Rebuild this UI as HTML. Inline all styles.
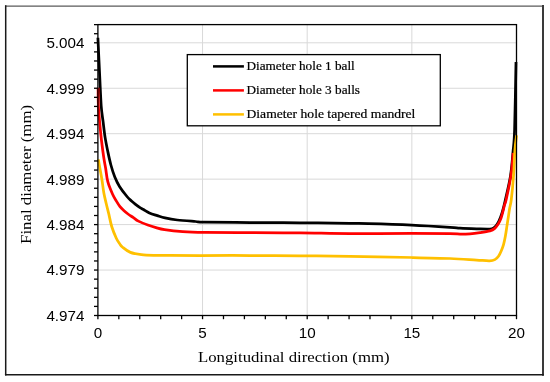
<!DOCTYPE html>
<html><head><meta charset="utf-8"><title>Final diameter chart</title>
<style>html,body{margin:0;padding:0;background:#fff;width:550px;height:382px;overflow:hidden}svg{display:block}</style>
</head><body>
<svg width="550" height="382" viewBox="0 0 550 382"><g stroke="#d9d9d9" stroke-width="1"><line x1="98" y1="270.05" x2="516.5" y2="270.05"/><line x1="98" y1="224.60" x2="516.5" y2="224.60"/><line x1="98" y1="179.15" x2="516.5" y2="179.15"/><line x1="98" y1="133.70" x2="516.5" y2="133.70"/><line x1="98" y1="88.25" x2="516.5" y2="88.25"/><line x1="98" y1="42.80" x2="516.5" y2="42.80"/><line x1="202.55" y1="24.6" x2="202.55" y2="315.5"/><line x1="307.20" y1="24.6" x2="307.20" y2="315.5"/><line x1="411.85" y1="24.6" x2="411.85" y2="315.5"/></g>
<path d="M97.90,37.70 C98.20,44.08 99.15,64.62 99.70,76.00 C100.25,87.38 100.63,98.38 101.20,106.00 C101.77,113.62 102.45,116.47 103.10,121.70 C103.75,126.93 104.32,132.43 105.10,137.40 C105.88,142.37 106.83,146.90 107.80,151.50 C108.77,156.10 109.73,160.75 110.90,165.00 C112.07,169.25 113.37,173.43 114.80,177.00 C116.23,180.57 117.40,183.07 119.50,186.40 C121.60,189.73 125.40,194.57 127.40,197.00 C129.40,199.43 130.20,199.82 131.50,201.00 C132.80,202.18 133.78,203.00 135.20,204.10 C136.62,205.20 138.62,206.70 140.00,207.60 C141.38,208.50 141.93,208.62 143.50,209.50 C145.07,210.38 147.10,211.88 149.40,212.90 C151.70,213.92 154.70,214.77 157.30,215.60 C159.90,216.43 161.67,217.17 165.00,217.90 C168.33,218.63 172.22,219.40 177.30,220.00 C182.38,220.60 190.97,221.15 195.50,221.50 C200.03,221.85 195.42,221.92 204.50,222.10 C213.58,222.28 234.08,222.48 250.00,222.60 C265.92,222.72 283.33,222.67 300.00,222.80 C316.67,222.93 338.63,223.27 350.00,223.40 C361.37,223.53 357.90,223.32 368.20,223.60 C378.50,223.88 398.17,224.48 411.80,225.10 C425.43,225.72 441.97,226.78 450.00,227.30 C458.03,227.82 455.57,227.95 460.00,228.20 C464.43,228.45 471.60,228.67 476.60,228.80 C481.60,228.93 487.10,229.20 490.00,229.00 C492.90,228.80 492.93,228.22 494.00,227.60 C495.07,226.98 495.65,226.23 496.40,225.30 C497.15,224.37 497.90,223.12 498.50,222.00 C499.10,220.88 499.38,220.18 500.00,218.60 C500.62,217.02 501.37,215.35 502.20,212.50 C503.03,209.65 503.62,207.58 505.00,201.50 C506.38,195.42 509.17,184.25 510.50,176.00 C511.83,167.75 512.32,159.67 513.00,152.00 C513.68,144.33 514.10,145.00 514.60,130.00 C515.10,115.00 515.77,73.33 516.00,62.00" fill="none" stroke="#000" stroke-width="2.75" stroke-linejoin="round" stroke-linecap="butt"/>
<path d="M98.10,87.70 C98.15,90.75 98.10,99.82 98.40,106.00 C98.70,112.18 99.38,119.05 99.90,124.80 C100.42,130.55 100.85,135.00 101.50,140.50 C102.15,146.00 103.12,153.22 103.80,157.80 C104.48,162.38 104.93,164.02 105.60,168.00 C106.27,171.98 106.63,177.32 107.80,181.70 C108.97,186.08 111.17,191.07 112.60,194.30 C114.03,197.53 115.17,199.05 116.40,201.10 C117.63,203.15 118.82,205.08 120.00,206.60 C121.18,208.12 122.17,208.97 123.50,210.20 C124.83,211.43 126.35,212.77 128.00,214.00 C129.65,215.23 131.67,216.42 133.40,217.60 C135.13,218.78 136.00,219.87 138.40,221.10 C140.80,222.33 144.87,223.92 147.80,225.00 C150.73,226.08 153.22,226.83 156.00,227.60 C158.78,228.37 160.05,228.93 164.50,229.60 C168.95,230.27 176.03,231.13 182.70,231.60 C189.37,232.07 193.28,232.22 204.50,232.40 C215.72,232.58 234.08,232.62 250.00,232.70 C265.92,232.78 283.33,232.75 300.00,232.90 C316.67,233.05 331.37,233.52 350.00,233.60 C368.63,233.68 395.13,233.38 411.80,233.40 C428.47,233.42 441.97,233.58 450.00,233.70 C458.03,233.82 456.67,234.08 460.00,234.10 C463.33,234.12 466.67,234.05 470.00,233.80 C473.33,233.55 476.67,233.10 480.00,232.60 C483.33,232.10 487.58,231.47 490.00,230.80 C492.42,230.13 493.13,229.72 494.50,228.60 C495.87,227.48 497.13,225.77 498.20,224.10 C499.27,222.43 500.13,220.63 500.90,218.60 C501.67,216.57 502.20,214.17 502.80,211.90 C503.40,209.63 503.93,207.07 504.50,205.00 C505.07,202.93 505.12,204.50 506.20,199.50 C507.28,194.50 509.83,182.75 511.00,175.00 C512.17,167.25 512.83,156.67 513.20,153.00" fill="none" stroke="#ff0000" stroke-width="2.75" stroke-linejoin="round" stroke-linecap="butt"/>
<path d="M98.40,159.40 C98.58,160.50 98.92,162.65 99.50,166.00 C100.08,169.35 101.18,175.05 101.90,179.50 C102.62,183.95 103.08,188.70 103.80,192.70 C104.52,196.70 105.40,200.10 106.20,203.50 C107.00,206.90 107.68,209.27 108.60,213.10 C109.52,216.93 110.42,222.32 111.70,226.50 C112.98,230.68 115.00,235.37 116.30,238.20 C117.60,241.03 118.45,242.00 119.50,243.50 C120.55,245.00 120.78,245.72 122.60,247.20 C124.42,248.68 127.27,251.15 130.40,252.40 C133.53,253.65 137.47,254.20 141.40,254.70 C145.33,255.20 149.23,255.28 154.00,255.40 C158.77,255.52 162.33,255.38 170.00,255.40 C177.67,255.42 186.67,255.48 200.00,255.50 C213.33,255.52 233.33,255.45 250.00,255.50 C266.67,255.55 283.33,255.65 300.00,255.80 C316.67,255.95 331.37,256.12 350.00,256.40 C368.63,256.68 395.13,257.15 411.80,257.50 C428.47,257.85 439.20,258.07 450.00,258.50 C460.80,258.93 470.02,259.72 476.60,260.10 C483.18,260.48 486.45,260.88 489.50,260.80 C492.55,260.72 493.40,260.37 494.90,259.60 C496.40,258.83 497.45,257.63 498.50,256.20 C499.55,254.77 500.35,252.98 501.20,251.00 C502.05,249.02 502.90,246.80 503.60,244.30 C504.30,241.80 504.83,239.12 505.40,236.00 C505.97,232.88 506.50,228.85 507.00,225.60 C507.50,222.35 507.97,219.35 508.40,216.50 C508.83,213.65 509.12,211.33 509.60,208.50 C510.08,205.67 510.63,205.08 511.30,199.50 C511.97,193.92 513.00,183.25 513.60,175.00 C514.20,166.75 514.40,156.60 514.90,150.00 C515.40,143.40 516.32,137.83 516.60,135.40" fill="none" stroke="#ffc000" stroke-width="2.75" stroke-linejoin="round" stroke-linecap="butt"/>
<rect x="97.9" y="24.6" width="418.6" height="290.9" fill="none" stroke="#000" stroke-width="1.3"/>
<g stroke="#000" stroke-width="1.3"><line x1="94.0" y1="315.50" x2="97.9" y2="315.50"/><line x1="94.0" y1="306.41" x2="97.9" y2="306.41"/><line x1="94.0" y1="297.32" x2="97.9" y2="297.32"/><line x1="94.0" y1="288.23" x2="97.9" y2="288.23"/><line x1="94.0" y1="279.14" x2="97.9" y2="279.14"/><line x1="94.0" y1="270.05" x2="97.9" y2="270.05"/><line x1="94.0" y1="260.96" x2="97.9" y2="260.96"/><line x1="94.0" y1="251.87" x2="97.9" y2="251.87"/><line x1="94.0" y1="242.78" x2="97.9" y2="242.78"/><line x1="94.0" y1="233.69" x2="97.9" y2="233.69"/><line x1="94.0" y1="224.60" x2="97.9" y2="224.60"/><line x1="94.0" y1="215.51" x2="97.9" y2="215.51"/><line x1="94.0" y1="206.42" x2="97.9" y2="206.42"/><line x1="94.0" y1="197.33" x2="97.9" y2="197.33"/><line x1="94.0" y1="188.24" x2="97.9" y2="188.24"/><line x1="94.0" y1="179.15" x2="97.9" y2="179.15"/><line x1="94.0" y1="170.06" x2="97.9" y2="170.06"/><line x1="94.0" y1="160.97" x2="97.9" y2="160.97"/><line x1="94.0" y1="151.88" x2="97.9" y2="151.88"/><line x1="94.0" y1="142.79" x2="97.9" y2="142.79"/><line x1="94.0" y1="133.70" x2="97.9" y2="133.70"/><line x1="94.0" y1="124.61" x2="97.9" y2="124.61"/><line x1="94.0" y1="115.52" x2="97.9" y2="115.52"/><line x1="94.0" y1="106.43" x2="97.9" y2="106.43"/><line x1="94.0" y1="97.34" x2="97.9" y2="97.34"/><line x1="94.0" y1="88.25" x2="97.9" y2="88.25"/><line x1="94.0" y1="79.16" x2="97.9" y2="79.16"/><line x1="94.0" y1="70.07" x2="97.9" y2="70.07"/><line x1="94.0" y1="60.98" x2="97.9" y2="60.98"/><line x1="94.0" y1="51.89" x2="97.9" y2="51.89"/><line x1="94.0" y1="42.80" x2="97.9" y2="42.80"/><line x1="94.0" y1="33.71" x2="97.9" y2="33.71"/><line x1="94.0" y1="24.62" x2="97.9" y2="24.62"/><line x1="97.90" y1="315.5" x2="97.90" y2="319.2"/><line x1="118.83" y1="315.5" x2="118.83" y2="319.2"/><line x1="139.76" y1="315.5" x2="139.76" y2="319.2"/><line x1="160.69" y1="315.5" x2="160.69" y2="319.2"/><line x1="181.62" y1="315.5" x2="181.62" y2="319.2"/><line x1="202.55" y1="315.5" x2="202.55" y2="319.2"/><line x1="223.48" y1="315.5" x2="223.48" y2="319.2"/><line x1="244.41" y1="315.5" x2="244.41" y2="319.2"/><line x1="265.34" y1="315.5" x2="265.34" y2="319.2"/><line x1="286.27" y1="315.5" x2="286.27" y2="319.2"/><line x1="307.20" y1="315.5" x2="307.20" y2="319.2"/><line x1="328.13" y1="315.5" x2="328.13" y2="319.2"/><line x1="349.06" y1="315.5" x2="349.06" y2="319.2"/><line x1="369.99" y1="315.5" x2="369.99" y2="319.2"/><line x1="390.92" y1="315.5" x2="390.92" y2="319.2"/><line x1="411.85" y1="315.5" x2="411.85" y2="319.2"/><line x1="432.78" y1="315.5" x2="432.78" y2="319.2"/><line x1="453.71" y1="315.5" x2="453.71" y2="319.2"/><line x1="474.64" y1="315.5" x2="474.64" y2="319.2"/><line x1="495.57" y1="315.5" x2="495.57" y2="319.2"/><line x1="516.50" y1="315.5" x2="516.50" y2="319.2"/></g>
<g font-family="Liberation Sans, Arial, sans-serif" font-size="15.2" fill="#000"><text x="84.4" y="320.90" text-anchor="end">4.974</text><text x="84.4" y="275.45" text-anchor="end">4.979</text><text x="84.4" y="230.00" text-anchor="end">4.984</text><text x="84.4" y="184.55" text-anchor="end">4.989</text><text x="84.4" y="139.10" text-anchor="end">4.994</text><text x="84.4" y="93.65" text-anchor="end">4.999</text><text x="84.4" y="48.20" text-anchor="end">5.004</text><text x="97.90" y="338.4" text-anchor="middle">0</text><text x="202.55" y="338.4" text-anchor="middle">5</text><text x="307.20" y="338.4" text-anchor="middle">10</text><text x="411.85" y="338.4" text-anchor="middle">15</text><text x="516.50" y="338.4" text-anchor="middle">20</text></g>
<text x="198" y="362.4" font-family="Liberation Serif, serif" font-size="15.5" textLength="191.5" lengthAdjust="spacingAndGlyphs">Longitudinal direction (mm)</text>
<text transform="translate(30.9,243.9) rotate(-90)" x="0" y="0" font-family="Liberation Serif, serif" font-size="15.5" textLength="139" lengthAdjust="spacingAndGlyphs">Final diameter (mm)</text>
<rect x="187.3" y="54.6" width="253" height="71.2" fill="#fff" stroke="#000" stroke-width="1.3"/><line x1="213" y1="66.4" x2="243.9" y2="66.4" stroke="#000" stroke-width="2.5"/><text x="246.5" y="69.9" font-family="Liberation Serif, serif" font-size="12.3" stroke="#000" stroke-width="0.2" textLength="108.3" lengthAdjust="spacingAndGlyphs">Diameter hole 1 ball</text><line x1="213" y1="90.4" x2="243.9" y2="90.4" stroke="#ff0000" stroke-width="2.5"/><text x="246.5" y="93.9" font-family="Liberation Serif, serif" font-size="12.3" stroke="#000" stroke-width="0.2" textLength="113.5" lengthAdjust="spacingAndGlyphs">Diameter hole 3 balls</text><line x1="213" y1="114.4" x2="243.9" y2="114.4" stroke="#ffc000" stroke-width="2.5"/><text x="246.5" y="117.9" font-family="Liberation Serif, serif" font-size="12.3" stroke="#000" stroke-width="0.2" textLength="168.9" lengthAdjust="spacingAndGlyphs">Diameter hole tapered mandrel</text>
<g fill="none" stroke-linecap="square"><line x1="5.7" y1="6.1" x2="543" y2="6.1" stroke="#5a5a5a" stroke-width="1.3"/><line x1="543" y1="6.1" x2="543" y2="374.8" stroke="#3a3a3a" stroke-width="2"/><line x1="5.7" y1="374.8" x2="543" y2="374.8" stroke="#1a1a1a" stroke-width="1.5"/><line x1="5.7" y1="6.1" x2="5.7" y2="374.8" stroke="#1a1a1a" stroke-width="1.5"/></g></svg>
</body></html>
